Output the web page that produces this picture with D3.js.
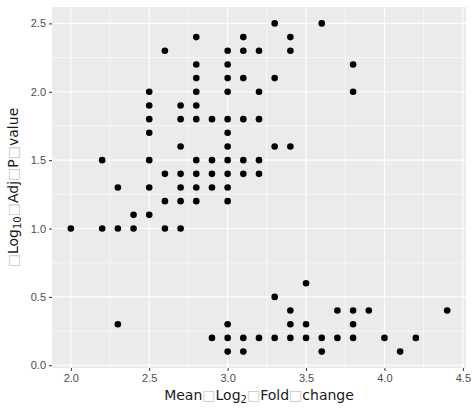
<!DOCTYPE html>
<html lang="en">
<head>
<meta charset="UTF-8">
<title>Mean Log2 Fold change vs Adj P value</title>
<script src="https://d3js.org/d3.v7.min.js"></script>
<style>
  body { margin: 0; background: #fff; }
  svg { font-family: "DejaVu Sans", sans-serif; display: block; }
  .grid-major { stroke: #fff; stroke-width: 1.1; }
  .grid-minor { stroke: #fff; stroke-width: 0.55; }
  .tick-label { font-size: 11px; fill: #4d4d4d; }
  .axis-title { font-size: 14px; fill: #1a1a1a; }
  .tofu { fill: #c8c8c8; }
</style>
</head>
<body>
<svg width="474" height="412"></svg>
<script>
// points, grouped by log2 fold change
const foldChange = [
  3.3, 3.6,
  2.8, 3.1, 3.4,
  2.6, 3.0, 3.1, 3.2, 3.4,
  2.8, 3.0, 3.8,
  2.8, 3.0, 3.1, 3.3,
  2.5, 2.8, 3.0, 3.2, 3.8,
  2.5, 2.7, 2.8,
  2.5, 2.7, 2.8, 2.9, 3.0, 3.1, 3.2,
  2.5, 3.0,
  2.7, 3.0, 3.3, 3.4,
  2.2, 2.5, 2.8, 2.9, 3.0, 3.1, 3.2,
  2.6, 2.7, 2.8, 2.9, 3.0, 3.1, 3.2,
  2.3, 2.5, 2.7, 2.8, 2.9, 3.0,
  2.6, 2.7, 2.8, 3.0,
  2.4, 2.5,
  2.0, 2.2, 2.3, 2.4, 2.6, 2.7,
  3.5,
  3.3,
  3.4, 3.7, 3.8, 3.9, 4.4,
  2.3, 3.0, 3.4, 3.5, 3.8,
  2.9, 3.0, 3.1, 3.2, 3.3, 3.4, 3.5, 3.6, 3.7, 3.8, 4.0, 4.2,
  3.0, 3.1, 3.6, 4.1
];
const negLogP = [
  2.5, 2.5,
  2.4, 2.4, 2.4,
  2.3, 2.3, 2.3, 2.3, 2.3,
  2.2, 2.2, 2.2,
  2.1, 2.1, 2.1, 2.1,
  2.0, 2.0, 2.0, 2.0, 2.0,
  1.9, 1.9, 1.9,
  1.8, 1.8, 1.8, 1.8, 1.8, 1.8, 1.8,
  1.7, 1.7,
  1.6, 1.6, 1.6, 1.6,
  1.5, 1.5, 1.5, 1.5, 1.5, 1.5, 1.5,
  1.4, 1.4, 1.4, 1.4, 1.4, 1.4, 1.4,
  1.3, 1.3, 1.3, 1.3, 1.3, 1.3,
  1.2, 1.2, 1.2, 1.2,
  1.1, 1.1,
  1.0, 1.0, 1.0, 1.0, 1.0, 1.0,
  0.6,
  0.5,
  0.4, 0.4, 0.4, 0.4, 0.4,
  0.3, 0.3, 0.3, 0.3, 0.3,
  0.2, 0.2, 0.2, 0.2, 0.2, 0.2, 0.2, 0.2, 0.2, 0.2, 0.2, 0.2,
  0.1, 0.1, 0.1, 0.1
];
const xTicks = [2.0, 2.5, 3.0, 3.5, 4.0, 4.5];
const yTicks = [0.0, 0.5, 1.0, 1.5, 2.0, 2.5];
const xMinor = [2.25, 2.75, 3.25, 3.75, 4.25];
const yMinor = [0.25, 0.75, 1.25, 1.75, 2.25];

const svg = d3.select("svg");
const margin = { top: 7, right: 8, bottom: 44, left: 52 };
const width = 474 - margin.left - margin.right;
const height = 412 - margin.top - margin.bottom;

// ggplot-like 5% expansion around the data range
const xExt = d3.extent(foldChange), yExt = d3.extent(negLogP);
const xPad = (xExt[1] - xExt[0]) * 0.05, yPad = (yExt[1] - yExt[0]) * 0.05;
const x = d3.scaleLinear().domain([xExt[0] - xPad, xExt[1] + xPad]).range([0, width]);
const y = d3.scaleLinear().domain([yExt[0] - yPad, yExt[1] + yPad]).range([height, 0]);

const g = svg.append("g").attr("transform", `translate(${margin.left},${margin.top})`);

g.append("rect").attr("width", width).attr("height", height).attr("fill", "#ebebeb");

g.selectAll(".xminor").data(xMinor).enter().append("line")
  .attr("class", "grid-minor")
  .attr("x1", d => x(d)).attr("x2", d => x(d)).attr("y1", 0).attr("y2", height);
g.selectAll(".yminor").data(yMinor).enter().append("line")
  .attr("class", "grid-minor")
  .attr("y1", d => y(d)).attr("y2", d => y(d)).attr("x1", 0).attr("x2", width);
g.selectAll(".xmajor").data(xTicks).enter().append("line")
  .attr("class", "grid-major")
  .attr("x1", d => x(d)).attr("x2", d => x(d)).attr("y1", 0).attr("y2", height);
g.selectAll(".ymajor").data(yTicks).enter().append("line")
  .attr("class", "grid-major")
  .attr("y1", d => y(d)).attr("y2", d => y(d)).attr("x1", 0).attr("x2", width);

// axes: ticks and labels only, no domain line
const xAxis = g.append("g").attr("transform", `translate(0,${height})`)
  .call(d3.axisBottom(x).tickValues(xTicks).tickFormat(d3.format(".1f")).tickSize(3).tickPadding(3));
const yAxis = g.append("g")
  .call(d3.axisLeft(y).tickValues(yTicks).tickFormat(d3.format(".1f")).tickSize(3).tickPadding(3));
[xAxis, yAxis].forEach(a => {
  a.select(".domain").remove();
  a.selectAll(".tick line").attr("stroke", "#333333");
  a.selectAll(".tick text").attr("class", "tick-label").attr("font-family", null).attr("font-size", null);
});

g.selectAll("circle").data(foldChange).enter().append("circle")
  .attr("cx", d => x(d))
  .attr("cy", (d, i) => y(negLogP[i]))
  .attr("r", 3.3)
  .attr("fill", "#000");

// axis titles (the source renders its separators as missing-glyph boxes)
function title(sel, parts) {
  parts.forEach(p => {
    const t = sel.append("tspan").text(p.t);
    if (p.tofu) t.attr("class", "tofu");
    if (p.sub) t.attr("font-size", "10px").attr("baseline-shift", "-30%");
  });
}

const xt = svg.append("text").attr("class", "axis-title")
  .attr("x", margin.left + width / 2).attr("y", 400).attr("text-anchor", "middle");
title(xt, [{ t: "Mean" }, { t: "□", tofu: true }, { t: "Log" }, { t: "2", sub: true },
  { t: "□", tofu: true }, { t: "Fold" }, { t: "□", tofu: true }, { t: "change" }]);

const yt = svg.append("text").attr("class", "axis-title")
  .attr("transform", `translate(18,${margin.top + height / 2}) rotate(-90)`)
  .attr("text-anchor", "middle");
title(yt, [{ t: "□", tofu: true }, { t: "Log" }, { t: "10", sub: true }, { t: "□", tofu: true },
  { t: "Adj" }, { t: "□", tofu: true }, { t: "P" }, { t: "□", tofu: true }, { t: "value" }]);
</script>
</body>
</html>
